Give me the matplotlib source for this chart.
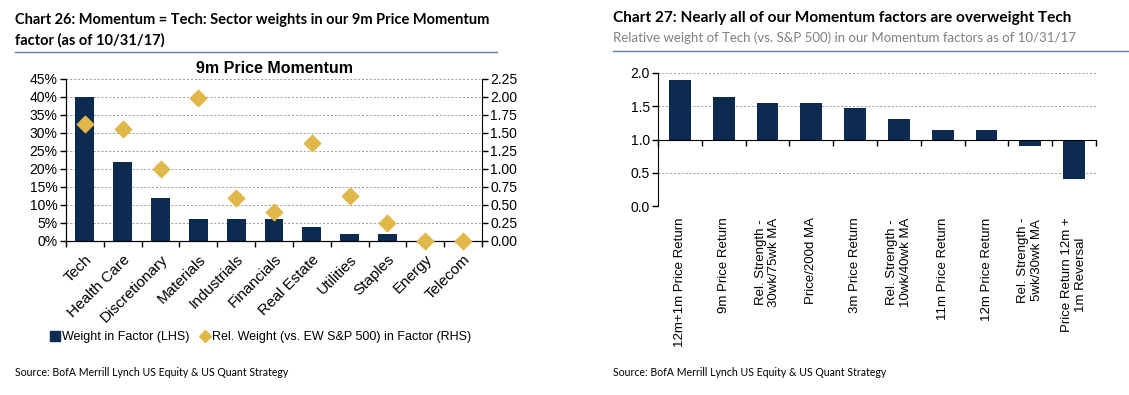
import matplotlib.pyplot as plt
import matplotlib.transforms as mtransforms
import numpy as np
from matplotlib.lines import Line2D

# Chart 26 data
sectors = ['Tech', 'Health Care', 'Discretionary', 'Materials', 'Industrials',
           'Financials', 'Real Estate', 'Utilities', 'Staples', 'Energy', 'Telecom']
weight_in_factor = [40, 22, 12, 6, 6, 6, 4, 2, 2, 0, 0]
rel_weight = [1.63, 1.56, 1.00, 1.98, 0.60, 0.40, 1.36, 0.63, 0.25, 0.0, 0.0]

# Chart 27 data
factors = ['12m+1m Price Return', '9m Price Return', 'Rel. Strength -\n30wk/75wk MA',
           'Price/200d MA', '3m Price Return', 'Rel. Strength -\n10wk/40wk MA',
           '11m Price Return', '12m Price Return', 'Rel. Strength -\n5wk/30wk MA',
           'Price Return 12m +\n1m Reversal']
tech_rel_weight = [1.89, 1.635, 1.555, 1.555, 1.47, 1.31, 1.14, 1.14, 0.90, 0.41]

navy = '#0d2a50'
gold = '#e0b84a'
rule = '#5b7fa6'
head = ['Lato', 'DejaVu Sans']
plt.rcParams['font.family'] = ['Liberation Sans', 'DejaVu Sans']

fig = plt.figure(figsize=(11.29, 3.95), dpi=100)

# headers
fig.text(15 / 1129, 1 - 20 / 395, 'Chart 26: Momentum = Tech: Sector weights in our 9m Price Momentum',
         family=head, fontweight='bold', fontsize=10.5, va='center')
fig.text(15 / 1129, 1 - 40 / 395, 'factor (as of 10/31/17)',
         family=head, fontweight='bold', fontsize=10.5, va='center')
fig.add_artist(Line2D([15 / 1129, 497 / 1129], [1 - 52 / 395] * 2, color=rule, lw=1))

fig.text(613 / 1129, 1 - 18 / 395, 'Chart 27: Nearly all of our Momentum factors are overweight Tech',
         family=head, fontweight='bold', fontsize=11.1, va='center')
fig.text(613 / 1129, 1 - 38 / 395, 'Relative weight of Tech (vs. S&P 500) in our Momentum factors as of 10/31/17',
         family=head, fontsize=9.55, color='#808080', va='center')
fig.add_artist(Line2D([613 / 1129, 1.0], [1 - 51 / 395] * 2, color=rule, lw=1))

fig.text(15 / 1129, 1 - 372 / 395, 'Source: BofA Merrill Lynch US Equity & US Quant Strategy',
         family=head, fontsize=7.6, va='center')
fig.text(613 / 1129, 1 - 372 / 395, 'Source: BofA Merrill Lynch US Equity & US Quant Strategy',
         family=head, fontsize=7.6, va='center')

# ---- Chart 26 ----
ax = fig.add_axes([66 / 1129, 1 - 241 / 395, (482 - 66) / 1129, (241 - 79) / 395])
x = np.arange(len(sectors))
ax.bar(x, weight_in_factor, width=0.5, color=navy, zorder=2)
ax.set_xlim(-0.5, len(sectors) - 0.5)
ax.set_ylim(0, 45)
ax.set_yticks(np.arange(0, 46, 5))
ax.set_yticklabels([f'{v}%' for v in range(0, 46, 5)], fontsize=10)
ax.yaxis.grid(True, linestyle=(0, (2, 2)), color='#999999', lw=0.7)
ax.set_axisbelow(True)
ax.set_xticks(np.arange(-0.5, len(sectors)), minor=True)
ax.set_xticks(x)
ax.set_xticklabels(sectors, rotation=45, ha='right', va='top', rotation_mode='anchor', fontsize=11)
shift = mtransforms.ScaledTranslation(-3 / 72, 0, fig.dpi_scale_trans)
for lbl in ax.get_xticklabels():
    lbl.set_transform(lbl.get_transform() + shift)
ax.tick_params(axis='x', which='major', length=0, pad=8)
ax.tick_params(axis='x', which='minor', length=4, width=1)
ax.tick_params(axis='y', length=4, width=1, pad=2)
ax.spines['top'].set_visible(False)
ax.spines['right'].set_visible(False)
ax.set_title('9m Price Momentum', fontsize=11.5, fontweight='bold', pad=4)

ax2 = ax.twinx()
ax2.scatter(x, rel_weight, marker='D', s=70, color=gold, zorder=3, clip_on=False)
ax2.set_ylim(0, 2.25)
ax2.set_yticks(np.arange(0, 2.26, 0.25))
ax2.set_yticklabels([f'{v:.2f}' for v in np.arange(0, 2.26, 0.25)], fontsize=10)
ax2.tick_params(axis='y', length=4, width=1, pad=2)
ax2.spines['top'].set_visible(False)

handles = [Line2D([], [], marker='s', color=navy, ls='', markersize=7),
           Line2D([], [], marker='D', color=gold, ls='', markersize=6.5)]
fig.legend(handles, ['Weight in Factor (LHS)', 'Rel. Weight (vs. EW S&P 500) in Factor (RHS)'],
           loc='center', bbox_to_anchor=(260 / 1129, 1 - 337 / 395), ncol=2, frameon=False,
           fontsize=9, handletextpad=0.05, columnspacing=0.8, handlelength=1.0)

# ---- Chart 27 ----
bx = fig.add_axes([658 / 1129, 1 - 206 / 395, (1096 - 658) / 1129, (206 - 73) / 395])
xf = np.arange(len(factors))
bx.bar(xf, np.array(tech_rel_weight) - 1.0, bottom=1.0, width=0.5, color=navy, zorder=2)
bx.set_xlim(-0.5, len(factors) - 0.5)
bx.set_ylim(0, 2.0)
bx.set_yticks(np.arange(0, 2.01, 0.5))
bx.set_yticklabels([f'{v:.1f}' for v in np.arange(0, 2.01, 0.5)], fontsize=10)
bx.yaxis.grid(True, linestyle=(0, (2, 2)), color='#999999', lw=0.7)
bx.set_axisbelow(True)
bx.spines['top'].set_visible(False)
bx.spines['right'].set_visible(False)
bx.spines['bottom'].set_position(('data', 1.0))
bx.set_xticks(np.arange(-0.5, len(factors)), minor=True)
bx.set_xticks(xf)
bx.set_xticklabels(factors, rotation=90, ha='center', va='top', multialignment='center', fontsize=9.5)
bx.tick_params(axis='x', which='major', length=0, pad=56)
bx.tick_params(axis='x', which='minor', length=4, width=1)
bx.tick_params(axis='y', length=4, width=1, pad=2)

fig.savefig('out.png', dpi=100)
